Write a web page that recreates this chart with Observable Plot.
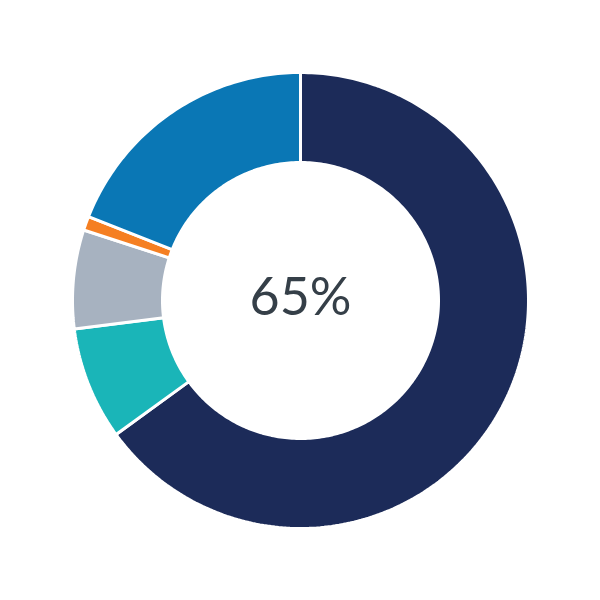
<!DOCTYPE html>
<html>
<head>
<meta charset="utf-8">
<script src="https://cdn.jsdelivr.net/npm/d3@7"></script>
<script src="https://cdn.jsdelivr.net/npm/@observablehq/plot@0.6"></script>
<style>
  html, body { margin: 0; padding: 0; background: #fff; }
  #chart { width: 600px; height: 600px; }
</style>
</head>
<body>
<div id="chart"></div>
<script>
const categories = ["A", "B", "C", "D", "E"];
const values = [65, 8, 7, 1, 19];
const colors = ["#1c2b59", "#1ab5b8", "#a7b2c0", "#f57f22", "#0a77b5"];
const centerLabel = "65%";

const outerR = 228, innerR = 138;
const slices = categories.map((c, i) => ({ label: c, value: values[i] }));
const pie = d3.pie().value(d => d.value).sort(null)(slices);
const pts = [];
for (const arc of pie) {
  const n = Math.max(4, Math.ceil((arc.endAngle - arc.startAngle) * 60));
  for (let k = 0; k <= n; k++) {
    const a = arc.startAngle + (arc.endAngle - arc.startAngle) * k / n;
    pts.push({ label: arc.data.label, x: outerR * Math.sin(a), y: outerR * Math.cos(a) });
  }
  for (let k = n; k >= 0; k--) {
    const a = arc.startAngle + (arc.endAngle - arc.startAngle) * k / n;
    pts.push({ label: arc.data.label, x: innerR * Math.sin(a), y: innerR * Math.cos(a) });
  }
}

const chart = Plot.plot({
  width: 600,
  height: 600,
  margin: 0,
  x: { domain: [-300, 300], axis: null },
  y: { domain: [-300, 300], axis: null },
  color: { domain: categories, range: colors },
  marks: [
    Plot.line(pts, { x: "x", y: "y", z: "label", fill: "label", stroke: "white", strokeWidth: 3, curve: "linear-closed", strokeLinejoin: "miter" }),
    Plot.text([centerLabel], { x: () => 0, y: () => 0, text: d => d, fontSize: 52, fontFamily: "Lato", fontWeight: 400, fill: "#353f48", dy: -2 })
  ]
});
document.getElementById("chart").appendChild(chart);
</script>
</body>
</html>
